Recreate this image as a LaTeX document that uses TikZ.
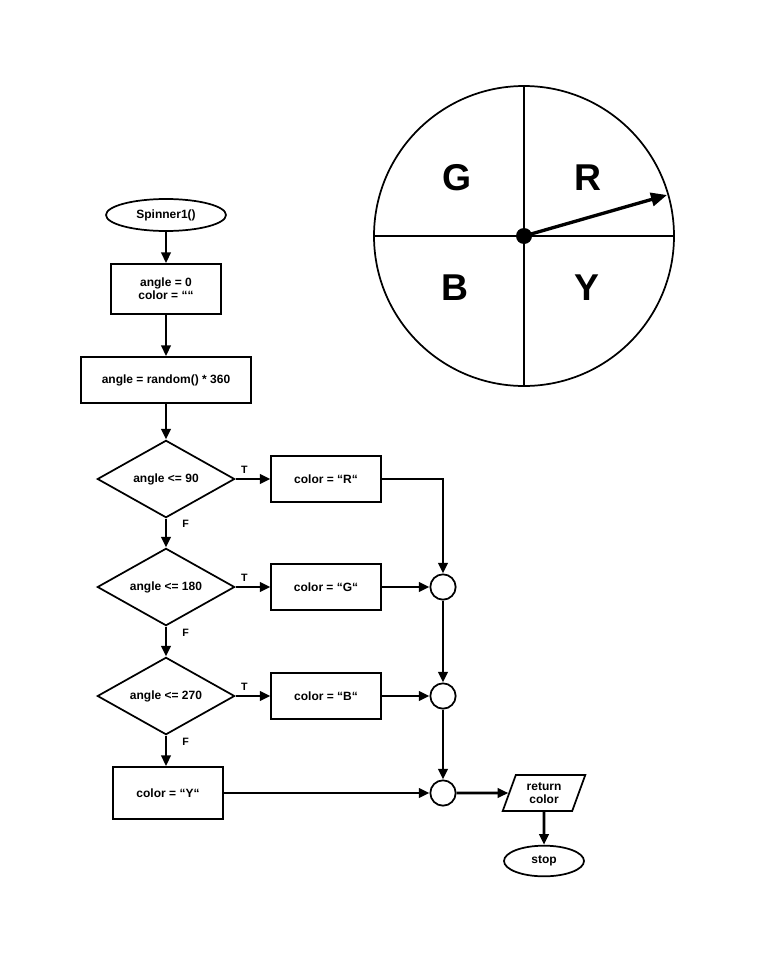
\documentclass[tikz,border=0pt]{standalone}
\usepackage{fontspec}
\setmainfont{Liberation Sans}
\usetikzlibrary{shapes.geometric,arrows.meta}
\tikzstyle{block} = [draw, line width=1.3pt, fill=white, rectangle, minimum height=34.5pt, minimum width=82pt, align=center, font=\fontsize{9}{10}\bfseries]
\tikzstyle{decision} = [draw, line width=1.3pt, diamond, aspect=1.77, minimum width=103pt, minimum height=58pt, inner sep=0pt, font=\fontsize{9}{10}\bfseries]
\tikzstyle{term} = [draw, line width=1.3pt, ellipse, font=\fontsize{9}{10}\bfseries]
\tikzstyle{merge} = [draw, line width=1.3pt, circle, minimum size=19pt, inner sep=0pt]
\tikzstyle{lbl} = [font=\fontsize{8}{9}\bfseries]
\tikzset{flow/.style={line width=2pt, -{Triangle[length=8pt,width=7pt]}}}
\begin{document}
\begin{tikzpicture}[x=0.75pt, y=-0.75pt]
        \useasboundingbox (0,0) rectangle (762,974);
        % spinner
        \node [draw, circle, line width=1.3pt, minimum size=225pt, inner sep=0pt] (wheel) at (524,236) {};
        \draw [line width=1.3pt] (wheel.north) -- (wheel.south);
        \draw [line width=1.3pt] (wheel.west) -- (wheel.east);
        \node [font=\fontsize{28}{30}\bfseries] (g) at (457,178) {G};
        \node [font=\fontsize{28}{30}\bfseries] (r) at (588,178) {R};
        \node [font=\fontsize{28}{30}\bfseries] (b) at (455,288) {B};
        \node [font=\fontsize{28}{30}\bfseries] (y) at (587,288) {Y};
        \node [fill, circle, minimum size=12pt, inner sep=0pt] (hub) at (524,236) {};
        \coordinate (tip) at (667,195);
        \draw [line width=2.5pt, -{Triangle[length=12pt,width=10pt]}] (hub.center) -- (tip);

        % flowchart
        \node [term, minimum width=90pt, minimum height=24pt] (start) at (166,215) {Spinner1()};
        \node [block, minimum height=37.5pt] (init) at (166,289) {angle = 0\\color = ``“};
        \node [block, minimum width=127pt] (rand) at (166,380) {angle = random() * 360};
        \node [decision] (d1) at (166,479) {angle <= 90};
        \node [decision] (d2) at (166,587) {angle <= 180};
        \node [decision] (d3) at (166,696) {angle <= 270};
        \node [block] (cr) at (326,479) {color = “R“};
        \node [block] (cg) at (326,587) {color = “G“};
        \node [block] (cb) at (326,696) {color = “B“};
        \node [block, minimum height=39pt] (cy) at (168,793) {color = “Y“};
        \node [merge] (j1) at (443,587) {};
        \node [merge] (j2) at (443,696) {};
        \node [merge] (j3) at (443,793) {};
        \node [draw, line width=1.3pt, trapezium, trapezium left angle=70, trapezium right angle=110, minimum width=62pt, minimum height=27pt, align=center, font=\fontsize{9}{10}\bfseries, inner sep=1pt] (ret) at (544,793) {return\\color};
        \node [term, minimum width=60pt, minimum height=23pt] (stop) at (544,861) {stop};

        \draw [flow] (start) -- (init);
        \draw [flow] (init) -- (rand);
        \draw [flow] (rand) -- (d1);
        \draw [flow] (d1) -- node [lbl, above, pos=0.25] {T} (cr);
        \draw [flow] (d2) -- node [lbl, above, pos=0.25] {T} (cg);
        \draw [flow] (d3) -- node [lbl, above, pos=0.25] {T} (cb);
        \draw [flow] (d1) -- node [lbl, right, pos=0.2, xshift=8pt] {F} (d2);
        \draw [flow] (d2) -- node [lbl, right, pos=0.2, xshift=8pt] {F} (d3);
        \draw [flow] (d3.south) -- node [lbl, right, pos=0.2, xshift=8pt] {F} (d3.south |- cy.north);
        \draw [flow] (cr) -| (j1);
        \draw [flow] (cg) -- (j1);
        \draw [flow] (cb) -- (j2);
        \draw [flow] (cy) -- (j3);
        \draw [flow] (j1) -- (j2);
        \draw [flow] (j2) -- (j3);
        \draw [flow] (j3) -- (ret);
        \draw [flow] (ret) -- (stop);
    \end{tikzpicture}
\end{document}
